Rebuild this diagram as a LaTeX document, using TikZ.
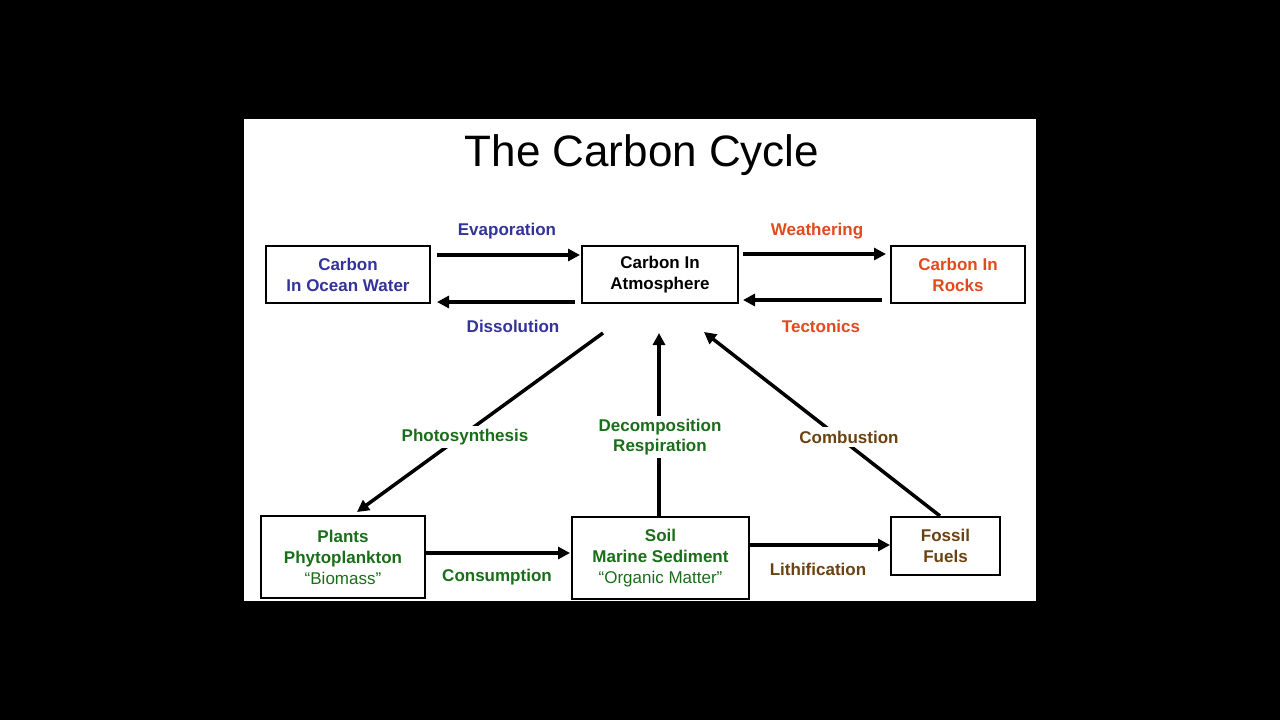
\documentclass[tikz,border=0pt]{standalone}
\usepackage{fontspec}
\setmainfont{Liberation Sans}
\usetikzlibrary{arrows.meta}
\definecolor{cblue}{HTML}{333399}
\definecolor{corange}{HTML}{E04A1E}
\definecolor{cgreen}{HTML}{1A6E1A}
\definecolor{cbrown}{HTML}{6B4210}
\begin{document}
\begin{tikzpicture}[x=1pt,y=-1pt,
  box/.style={draw,line width=1.5pt,inner sep=0pt,font=\fontsize{17}{21}\selectfont\bfseries,align=center},
  lbl/.style={font=\fontsize{17}{20}\selectfont\bfseries,align=center},
  arr/.style={line width=3.5pt,-{Triangle[length=12pt,width=12pt]}}]
\fill[black] (0,0) rectangle (1280,720);
\fill[white] (244,119) rectangle (1036,601);
\node[font=\fontsize{44}{50}\selectfont] (title) at (642,155) {The Carbon Cycle};
\node[box,text=cblue,minimum width=164,minimum height=57] (ocean) at (348,274.5) {Carbon\\In Ocean Water};
\node[box,minimum width=156,minimum height=57] (atm) at (660,274.5) {Carbon In\\Atmosphere};
\node[box,text=corange,minimum width=134,minimum height=57] (rocks) at (958,274.5) {Carbon In\\Rocks};
\node[box,text=cgreen,minimum width=164,minimum height=82] (plants) at (343,557) {Plants\\Phytoplankton\\{\mdseries “Biomass”}};
\node[box,text=cgreen,minimum width=177,minimum height=82] (soil) at (660.5,558) {Soil\\Marine Sediment\\{\mdseries “Organic Matter”}};
\node[box,text=cbrown,minimum width=109,minimum height=58] (fossil) at (945.5,546) {Fossil\\Fuels};
\coordinate (e1) at (437,255); \coordinate (e2) at (580,255);
\coordinate (d1) at (575,302); \coordinate (d2) at (437,302);
\coordinate (w1) at (743,254); \coordinate (w2) at (886,254);
\coordinate (t1) at (882,300); \coordinate (t2) at (743,300);
\coordinate (p1) at (603,333); \coordinate (p2) at (357,512);
\coordinate (r1) at (659,517); \coordinate (r2) at (659,333);
\coordinate (c1) at (940,516); \coordinate (c2) at (704,332);
\coordinate (m1) at (425,553); \coordinate (m2) at (570,553);
\coordinate (l1) at (749,545); \coordinate (l2) at (890,545);
\draw[arr] (e1) -- (e2); \draw[arr] (d1) -- (d2);
\draw[arr] (w1) -- (w2); \draw[arr] (t1) -- (t2);
\draw[arr] (p1) -- (p2); \draw[arr] (r1) -- (r2);
\draw[arr] (c1) -- (c2); \draw[arr] (m1) -- (m2); \draw[arr] (l1) -- (l2);
\node[lbl,text=cblue] (le) at (507,231) {Evaporation};
\node[lbl,text=cblue] (ld) at (513,326) {Dissolution};
\node[lbl,text=corange] (lw) at (817,231) {Weathering};
\node[lbl,text=corange] (lt) at (821,326) {Tectonics};
\node[lbl,text=cgreen,fill=white] (lp) at (465,437) {Photosynthesis};
\node[lbl,text=cgreen,fill=white] (lr) at (660,437) {Decomposition\\Respiration};
\node[lbl,text=cbrown,fill=white] (lc) at (849,437) {Combustion};
\node[lbl,text=cgreen] (lm) at (497,577) {Consumption};
\node[lbl,text=cbrown] (ll) at (818,569) {Lithification};
\end{tikzpicture}
\end{document}
